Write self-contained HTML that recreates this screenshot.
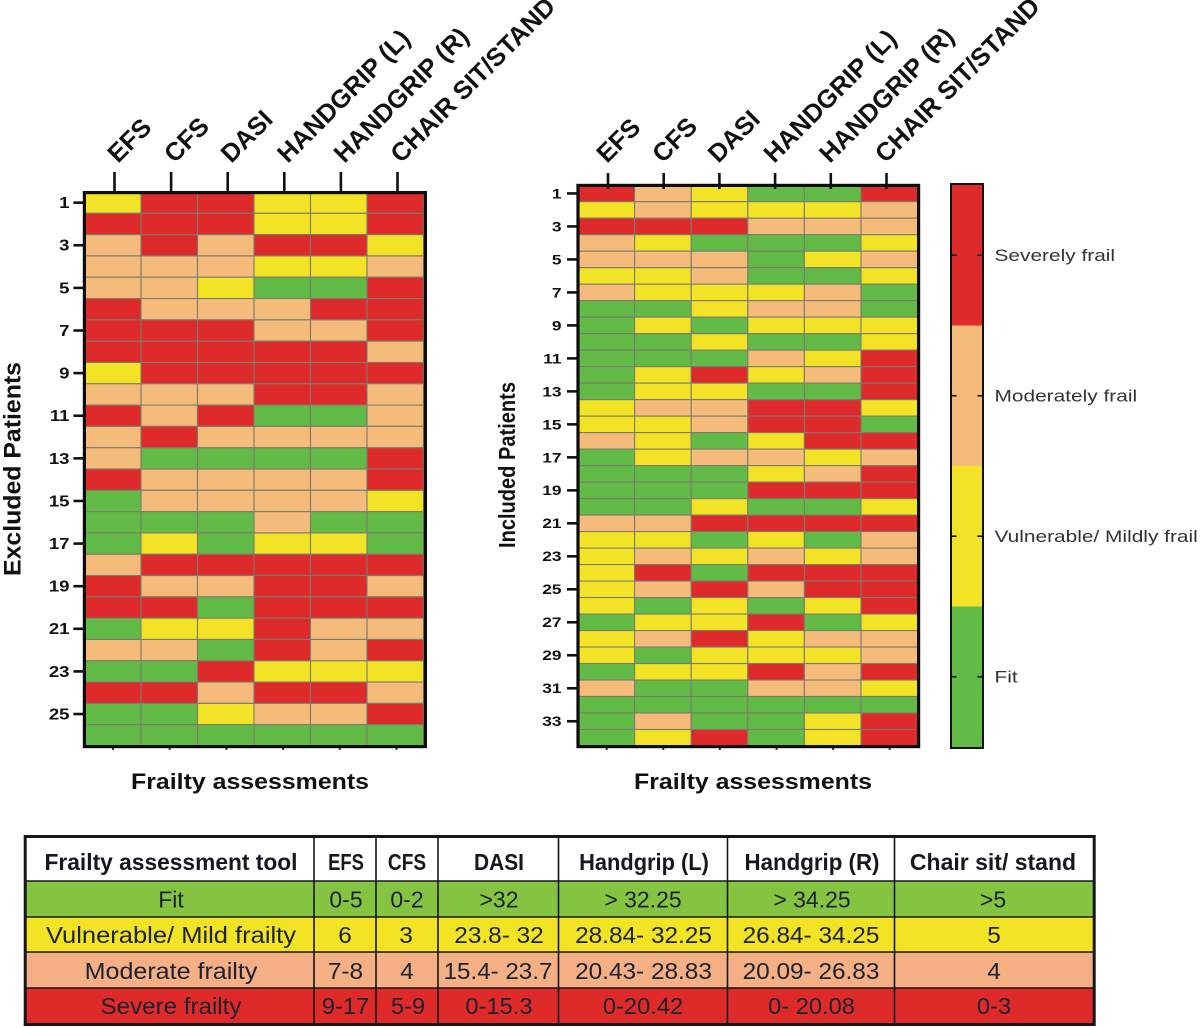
<!DOCTYPE html>
<html lang="en">
<head>
<meta charset="utf-8">
<title>Frailty assessment heatmaps</title>
<style>
html,body{margin:0;padding:0;background:#fff;}
svg{display:block;filter:blur(0.35px);}
text{font-family:"Liberation Sans",Arial,sans-serif;}
.th{font-size:23px;font-weight:bold;fill:#16181f;text-anchor:middle;}
.td{font-size:23px;fill:#1c2230;text-anchor:middle;}
</style>
</head>
<body>
<svg id="figure" xmlns="http://www.w3.org/2000/svg" width="1200" height="1028" viewBox="0 0 1200 1028">
  <rect x="0" y="0" width="1200" height="1028" fill="#ffffff"/>
  <g id="left-chart"></g>
  <g id="right-chart"></g>
  <g id="legend"></g>

  <g>
    <rect x="25" y="837" width="1069" height="44" fill="#ffffff"/>
    <rect x="25" y="881" width="1069" height="36" fill="#84c441"/>
    <rect x="25" y="917" width="1069" height="35" fill="#f2e424"/>
    <rect x="25" y="952" width="1069" height="36" fill="#f4af85"/>
    <rect x="25" y="988" width="1069" height="36" fill="#df2a2a"/>
    <g stroke="#14161a" stroke-width="1.6">
      <line x1="25" x2="1094" y1="881" y2="881"/>
      <line x1="25" x2="1094" y1="917" y2="917"/>
      <line x1="25" x2="1094" y1="952" y2="952"/>
      <line x1="25" x2="1094" y1="988" y2="988"/>
      <line x1="314" x2="314" y1="838" y2="1024"/>
      <line x1="376" x2="376" y1="838" y2="1024"/>
      <line x1="438" x2="438" y1="838" y2="1024"/>
      <line x1="558.5" x2="558.5" y1="838" y2="1024"/>
      <line x1="727.5" x2="727.5" y1="838" y2="1024"/>
      <line x1="894.5" x2="894.5" y1="838" y2="1024"/>
    </g>
    <rect x="25.2" y="836.5" width="1069" height="188" fill="none" stroke="#14161a" stroke-width="3"/>

    <g>
      <text class="th" transform="translate(171,870) scale(0.99,1)">Frailty assessment tool</text>
      <text class="th" transform="translate(346,870) scale(0.8,1)">EFS</text>
      <text class="th" transform="translate(407,870) scale(0.83,1)">CFS</text>
      <text class="th" transform="translate(499,870) scale(0.91,1)">DASI</text>
      <text class="th" transform="translate(644,870) scale(0.95,1)">Handgrip (L)</text>
      <text class="th" transform="translate(812,870) scale(0.97,1)">Handgrip (R)</text>
      <text class="th" transform="translate(993,870) scale(1,1)">Chair sit/ stand</text>
    </g>
    <g>
      <text class="td" transform="translate(171,907.5) scale(1,1)">Fit</text>
      <text class="td" transform="translate(346,907.5) scale(1.0,1)">0-5</text>
      <text class="td" transform="translate(407,907.5) scale(1.0,1)">0-2</text>
      <text class="td" transform="translate(499,907.5) scale(1.0,1)">&gt;32</text>
      <text class="td" transform="translate(643,907.5) scale(1.0,1)">&gt; 32.25</text>
      <text class="td" transform="translate(812,907.5) scale(1.0,1)">&gt; 34.25</text>
      <text class="td" transform="translate(993,907.5) scale(1.0,1)">&gt;5</text>
    </g>
    <g>
      <text class="td" transform="translate(171,943) scale(1.11,1)">Vulnerable/ Mild frailty</text>
      <text class="td" transform="translate(345,943) scale(1.06,1)">6</text>
      <text class="td" transform="translate(406,943) scale(1.06,1)">3</text>
      <text class="td" transform="translate(499,943) scale(1.06,1)">23.8- 32</text>
      <text class="td" transform="translate(643.5,943) scale(1.06,1)">28.84- 32.25</text>
      <text class="td" transform="translate(811,943) scale(1.06,1)">26.84- 34.25</text>
      <text class="td" transform="translate(994,943) scale(1.06,1)">5</text>
    </g>
    <g>
      <text class="td" transform="translate(171,979) scale(1.09,1)">Moderate frailty</text>
      <text class="td" transform="translate(345.5,979) scale(1.06,1)">7-8</text>
      <text class="td" transform="translate(407,979) scale(1.06,1)">4</text>
      <text class="td" transform="translate(498,979) scale(1.05,1)">15.4- 23.7</text>
      <text class="td" transform="translate(643.5,979) scale(1.06,1)">20.43- 28.83</text>
      <text class="td" transform="translate(811,979) scale(1.06,1)">20.09- 26.83</text>
      <text class="td" transform="translate(994,979) scale(1.06,1)">4</text>
    </g>
    <g>
      <text class="td" transform="translate(171,1014) scale(1.05,1)">Severe frailty</text>
      <text class="td" transform="translate(345.5,1014) scale(1.03,1)">9-17</text>
      <text class="td" transform="translate(408,1014) scale(1.03,1)">5-9</text>
      <text class="td" transform="translate(499,1014) scale(1.03,1)">0-15.3</text>
      <text class="td" transform="translate(643,1014) scale(1.03,1)">0-20.42</text>
      <text class="td" transform="translate(811.5,1014) scale(1.03,1)">0- 20.08</text>
      <text class="td" transform="translate(994,1014) scale(1.03,1)">0-3</text>
    </g>
  </g>
</svg>

<script>
/* Categories and tick labels */
const assessments = ["EFS", "CFS", "DASI", "HANDGRIP (L)", "HANDGRIP (R)", "CHAIR SIT/STAND"];
const excludedYTicks = [1, 3, 5, 7, 9, 11, 13, 15, 17, 19, 21, 23, 25];
const includedYTicks = [1, 3, 5, 7, 9, 11, 13, 15, 17, 19, 21, 23, 25, 27, 29, 31, 33];
const legendLevels = ["Fit", "Vulnerable/ Mildly frail", "Moderately frail", "Severely frail"];

/* Frailty level per patient (row) and assessment (column): 0 fit, 1 vulnerable, 2 moderate, 3 severe */
const excludedScores = [
  [1,3,3,1,1,3],[3,3,3,1,1,3],[2,3,2,3,3,1],[2,2,2,1,1,2],[2,2,1,0,0,3],
  [3,2,2,2,3,3],[3,3,3,2,2,3],[3,3,3,3,3,2],[1,3,3,3,3,3],[2,2,2,3,3,2],
  [3,2,3,0,0,2],[2,3,2,2,2,2],[2,0,0,0,0,3],[3,2,2,2,2,3],[0,2,2,2,2,1],
  [0,0,0,2,0,0],[0,1,0,1,1,0],[2,3,3,3,3,3],[3,2,2,3,3,2],[3,3,0,3,3,3],
  [0,1,1,3,2,2],[2,2,0,3,2,3],[0,0,3,1,1,1],[3,3,2,3,3,2],[0,0,1,2,2,3],
  [0,0,0,0,0,0]
];
const includedScores = [
  [3,2,1,0,0,3],[1,2,1,1,1,2],[3,3,3,2,2,2],[2,1,0,0,0,1],[2,2,2,0,1,2],
  [1,1,2,0,0,1],[2,1,1,1,2,0],[0,0,1,2,2,0],[0,1,0,1,1,1],[0,0,1,0,0,1],
  [0,0,0,2,1,3],[0,1,3,1,2,3],[0,1,1,0,0,3],[1,2,2,3,3,1],[1,1,2,3,3,0],
  [2,1,0,1,3,3],[0,1,2,2,1,2],[0,0,0,1,2,3],[0,0,0,3,3,3],[0,0,1,0,0,1],
  [2,2,3,3,3,3],[1,1,0,1,0,2],[1,2,1,2,1,2],[1,3,0,3,3,3],[1,2,3,2,3,3],
  [1,0,1,0,1,3],[0,1,1,3,0,1],[1,2,3,1,2,2],[1,0,1,1,1,2],[0,1,1,3,2,3],
  [2,0,0,2,2,1],[0,0,0,0,0,0],[0,2,0,0,1,3],[0,1,3,0,1,3]
];

/* Styling */
const levelColors = ["#62bb46", "#f2e326", "#f5bb7a", "#de2a2a"];
const NS = "http://www.w3.org/2000/svg";

function svgEl(parent, tag, attrs) {
  const el = document.createElementNS(NS, tag);
  for (const k in attrs) el.setAttribute(k, attrs[k]);
  parent.appendChild(el);
  return el;
}

function drawChart(parent, cfg, scores, yTicks, yTitle) {
  const nRows = scores.length;
  const nCols = assessments.length;
  const cellW = (cfg.right - cfg.left) / nCols;
  const cellH = (cfg.bottom - cfg.top) / nRows;
  const xScale = function (c) { return cfg.left + c * cellW; };
  const yScale = function (r) { return cfg.top + r * cellH; };

  scores.forEach(function (row, r) {
    row.forEach(function (value, c) {
      const cell = svgEl(parent, "rect", {
        x: xScale(c), y: yScale(r), width: cellW, height: cellH,
        fill: levelColors[value], stroke: "#7c7c6c", "stroke-width": 1.1
      });
      
      
    });
  });

  const frame = svgEl(parent, "rect", {
    x: cfg.frameLeft, y: cfg.frameTop,
    width: cfg.frameRight - cfg.frameLeft, height: cfg.bottom + 0.6 - cfg.frameTop,
    fill: "none", stroke: "#0c0c0c", "stroke-width": 3.2
  });
  
  

  assessments.forEach(function (name, i) {
    const tx = cfg.tickStart + i * cfg.tickStep;
    const tick = svgEl(parent, "line", {
      x1: tx, x2: tx, y1: cfg.tickTop, y2: cfg.tickBottom, stroke: "#111", "stroke-width": 2.6
    });
    
    

    const stub = svgEl(parent, "line", {
      x1: cfg.stubStart + i * cfg.stubStep, x2: cfg.stubStart + i * cfg.stubStep,
      y1: cfg.bottom + 2, y2: cfg.bottom + 4, stroke: "#333", "stroke-width": 2
    });
    
    

    const label = svgEl(parent, "text", {
      transform: "translate(" + (tx + cfg.labelDx) + ",164) rotate(-45)",
      "font-size": cfg.labelSize, "font-weight": "bold", fill: "#111"
    });
    label.textContent = name;
    
    
  });

  yTicks.forEach(function (n) {
    const cy = yScale(n - 1) + cellH / 2;
    const tick = svgEl(parent, "line", {
      x1: cfg.frameLeft - 11, x2: cfg.frameLeft, y1: cy, y2: cy, stroke: "#111", "stroke-width": 2.6
    });
    
    

    const label = svgEl(parent, "text", {
      transform: "translate(" + cfg.yLabelX + "," + (cy + cfg.yLabelSize * 0.35) + ") scale(" + cfg.yLabelStretch + ",1)",
      "font-size": cfg.yLabelSize, "font-weight": "bold", fill: "#111", "text-anchor": "end"
    });
    label.textContent = n;
    
    
  });

  const xTitle = svgEl(parent, "text", {
    x: cfg.xTitleX, y: 789, "font-size": 22, "font-weight": "bold", fill: "#111",
    textLength: 238, lengthAdjust: "spacingAndGlyphs"
  });
  xTitle.textContent = "Frailty assessments";
  
  

  const yT = svgEl(parent, "text", {
    transform: "translate(" + cfg.yTitleX + "," + cfg.yTitleY + ") rotate(-90)",
    "font-size": cfg.yTitleSize, "font-weight": "bold", fill: "#111",
    textLength: cfg.yTitleLen, lengthAdjust: "spacingAndGlyphs"
  });
  yT.textContent = yTitle;
  
  
}

drawChart(document.getElementById("left-chart"), {
  left: 84.5, right: 423.5, top: 192, bottom: 746,
  frameLeft: 84.4, frameRight: 425.4, frameTop: 192.6,
  tickStart: 114.5, tickStep: 56.6, tickTop: 172, tickBottom: 192,
  stubStart: 113, stubStep: 56.7,
  labelDx: 3.5, labelSize: 25.5,
  yLabelX: 69.5, yLabelSize: 15.5, yLabelStretch: 1.2,
  xTitleX: 131, yTitleX: 20.5, yTitleY: 576, yTitleSize: 24, yTitleLen: 214
}, excludedScores, excludedYTicks, "Excluded Patients");

drawChart(document.getElementById("right-chart"), {
  left: 578, right: 917.6, top: 185.2, bottom: 746,
  frameLeft: 578, frameRight: 918.6, frameTop: 185.4,
  tickStart: 608, tickStep: 55.7, tickTop: 173, tickBottom: 189,
  stubStart: 606.7, stubStep: 56.6,
  labelDx: -1, labelSize: 25.5,
  yLabelX: 561.5, yLabelSize: 14, yLabelStretch: 1.24,
  xTitleX: 634, yTitleX: 515, yTitleY: 548, yTitleSize: 23, yTitleLen: 166
}, includedScores, includedYTicks, "Included Patients");

/* Colour bar legend */
(function () {
  const legend = document.getElementById("legend");
  const barTop = 185, barBottom = 747, barLeft = 951.5, barRight = 982.5;
  const segH = (barBottom - barTop) / legendLevels.length;
  const levelY = function (i) { return barBottom - (i + 1) * segH; };

  legendLevels.forEach(function (name, i) {
    const seg = svgEl(legend, "rect", {
      x: barLeft, y: levelY(i), width: barRight - barLeft, height: segH, fill: levelColors[i]
    });
    
    

    const cy = levelY(i) + segH / 2;
    const tickL = svgEl(legend, "line", {
      x1: barLeft, x2: barLeft + 5, y1: cy, y2: cy, stroke: "#111", "stroke-width": 1.6
    });
    
    

    const tickR = svgEl(legend, "line", {
      x1: barRight - 5, x2: barRight, y1: cy, y2: cy, stroke: "#111", "stroke-width": 1.6
    });
    
    

    const label = svgEl(legend, "text", {
      transform: "translate(994.5," + (cy + 5.5) + ") scale(1.28,1)",
      "font-size": 16.3, fill: "#333"
    });
    label.textContent = name;
    
    
  });

  const border = svgEl(legend, "rect", {
    x: barLeft - 0.5, y: barTop - 1, width: barRight - barLeft + 1, height: barBottom - barTop + 2,
    fill: "none", stroke: "#111", "stroke-width": 2
  });
  
  
})();
</script>
</body>
</html>
